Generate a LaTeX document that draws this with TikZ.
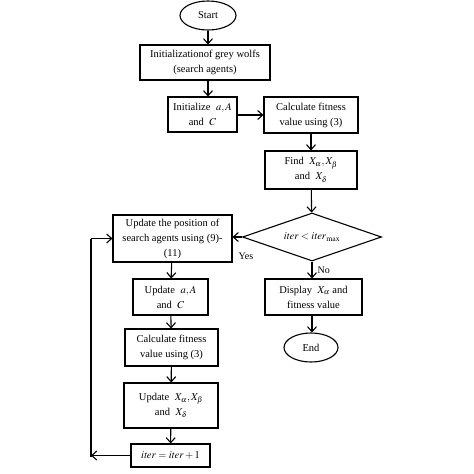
\documentclass[tikz,border=0pt]{standalone}
\usepackage{mathptmx}
\usepackage{fontspec}
\setmainfont{Liberation Serif}
\usepackage{tikz}
\usetikzlibrary{arrows.meta,shapes.geometric,calc}

\tikzset{
  flowbox/.style={draw,line width=1.1pt,align=center,inner sep=0pt,font=\fontsize{10.5}{15}\selectfont},
  termnode/.style={draw,ellipse,line width=1.1pt,inner sep=0pt,font=\fontsize{10.5}{12}\selectfont},
  decnode/.style={draw,diamond,aspect=2.9,line width=1.1pt,inner sep=0pt,font=\fontsize{10.5}{12}\selectfont},
  flowarrow/.style={line width=1.1pt,-{Straight Barb[length=5pt,width=9pt,line width=1.1pt]}},
  flowline/.style={line width=1.1pt},
  flowlabel/.style={font=\fontsize{10}{12}\selectfont,inner sep=0pt}
}

\begin{document}
\begin{tikzpicture}[x=1pt,y=-1pt]
\useasboundingbox (0,0) rectangle (474,474);
\node[termnode,minimum width=56,minimum height=29] (start) at (208,15.5) {Start};
\node[flowbox,minimum width=130,minimum height=35] (init) at (205,62.5) {Initializationof grey wolfs\\(search agents)};
\node[flowbox,minimum width=69,minimum height=35] (inia) at (202.5,114.5) {Initialize \;$a,A$\\and \;$C$};
\node[flowbox,minimum width=94,minimum height=36] (fitA) at (311,115) {Calculate fitness\\value using (3)};
\node[flowbox,minimum width=92,minimum height=38] (find) at (311,170) {Find \;$X_\alpha, X_\beta$\\and \;$X_\delta$};
\node[decnode,minimum width=139,minimum height=48] (cond) at (312,237) {$\mathit{iter} < \mathit{iter}_{\mathrm{max}}$};
\node[flowbox,minimum width=119,minimum height=47] (upos) at (172.5,238.5) {Update the position of\\search agents using (9)-\\(11)};
\node[flowbox,minimum width=75,minimum height=36] (upa) at (170.5,297) {Update \;$a,A$\\and \;$C$};
\node[flowbox,minimum width=93,minimum height=37] (fitB) at (171.5,347.5) {Calculate fitness\\value using (3)};
\node[flowbox,minimum width=94,minimum height=45] (upx) at (171,405.5) {Update \;$X_\alpha, X_\beta$\\and \;$X_\delta$};
\node[flowbox,minimum width=79,minimum height=23] (iter) at (170.5,455.5) {$\mathit{iter} = \mathit{iter} + 1$};
\node[flowbox,minimum width=97,minimum height=36] (disp) at (313.5,297) {Display \;$X_\alpha$ and\\fitness value};
\node[termnode,minimum width=54,minimum height=29] (end) at (311,347.5) {End};
\node[flowlabel] (yes) at ($(cond.west)+(4,19)$) {Yes};
\coordinate (loop) at (91,457);
\draw[flowarrow] (start) -- (start |- init.north);
\draw[flowarrow] (init.south -| start) -- (start |- inia.north);
\draw[flowarrow] (inia.east |- fitA) -- (fitA.west);
\draw[flowarrow] (fitA) -- (find);
\draw[flowarrow] (find) -- (cond);
\draw[flowarrow] (cond.west) -- (upos.east |- cond.west);
\draw[flowarrow] (cond.south) -- (cond.south |- disp.north) node[midway,right=5pt,flowlabel] (no) {No};
\draw[flowarrow] (disp.south -| cond.south) -- (cond.south |- end.north);
\draw[flowarrow] (upos) -- (upa);
\draw[flowarrow] (upa) -- (fitB);
\draw[flowarrow] (fitB) -- (upx);
\draw[flowarrow] (upx) -- (iter);
\draw[flowarrow] (iter.west) -- (iter.west -| loop);
\draw[flowline] (loop) -- (loop |- upos.west);
\draw[flowarrow] (loop |- upos.west) -- (upos.west);
\end{tikzpicture}
\end{document}
